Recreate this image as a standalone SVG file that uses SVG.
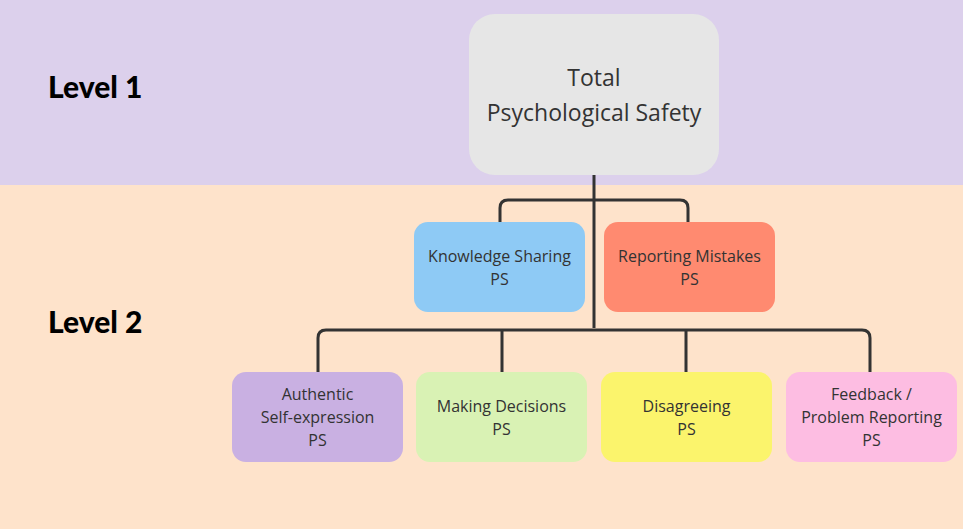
<svg xmlns="http://www.w3.org/2000/svg" width="963" height="529" viewBox="0 0 963 529">
<style>
.lvl{font-family:"Lato","Liberation Sans",sans-serif;font-weight:900;font-size:30px;fill:#000}
.t{font-family:"Open Sans","Noto Sans",sans-serif;font-size:16px;fill:#333;text-anchor:middle}
.big{font-family:"Open Sans","Noto Sans",sans-serif;font-size:23px;fill:#333;text-anchor:middle}
.c{fill:none;stroke:#333;stroke-width:3}
</style>
<rect x="0" y="0" width="963" height="185" fill="#dcd0ec"/>
<rect x="0" y="185" width="963" height="344" fill="#fee3cb"/>
<text class="lvl" x="48" y="98">Level 1</text>
<text class="lvl" x="48" y="333">Level 2</text>
<g id="connectors">
<path class="c" d="M594 175 V328"/>
<path class="c" d="M500 222 V208 Q500 200 508 200 H680 Q688 200 688 208 V222"/>
<path class="c" d="M318 372 V338 Q318 330 326 330 H862 Q870 330 870 338 V372"/>
<path class="c" d="M502 372 V330 M686 372 V330"/>
</g>
<g id="total"><rect x="469" y="14" width="250" height="161" rx="26" fill="#e6e6e6"/>
<text class="big" x="594" y="86">Total</text><text class="big" x="594" y="121">Psychological Safety</text></g>
<g id="knowledge"><rect x="414" y="222" width="171" height="90" rx="14" fill="#8ecaf5"/>
<text class="t" x="499.5" y="262">Knowledge Sharing</text><text class="t" x="499.5" y="285">PS</text></g>
<g id="reporting"><rect x="604" y="222" width="171" height="90" rx="14" fill="#ff8a70"/>
<text class="t" x="689.5" y="262">Reporting Mistakes</text><text class="t" x="689.5" y="285">PS</text></g>
<g id="authentic"><rect x="232" y="372" width="171" height="90" rx="14" fill="#c9b0e2"/>
<text class="t" x="317.5" y="400">Authentic</text><text class="t" x="317.5" y="423">Self-expression</text><text class="t" x="317.5" y="446">PS</text></g>
<g id="decisions"><rect x="416" y="372" width="171" height="90" rx="14" fill="#d9f2b4"/>
<text class="t" x="501.5" y="412">Making Decisions</text><text class="t" x="501.5" y="435">PS</text></g>
<g id="disagreeing"><rect x="601" y="372" width="171" height="90" rx="14" fill="#fbf46c"/>
<text class="t" x="686.5" y="412">Disagreeing</text><text class="t" x="686.5" y="435">PS</text></g>
<g id="feedback"><rect x="786" y="372" width="171" height="90" rx="14" fill="#fdbde2"/>
<text class="t" x="871.5" y="400">Feedback /</text><text class="t" x="871.5" y="423">Problem Reporting</text><text class="t" x="871.5" y="446">PS</text></g>
</svg>
